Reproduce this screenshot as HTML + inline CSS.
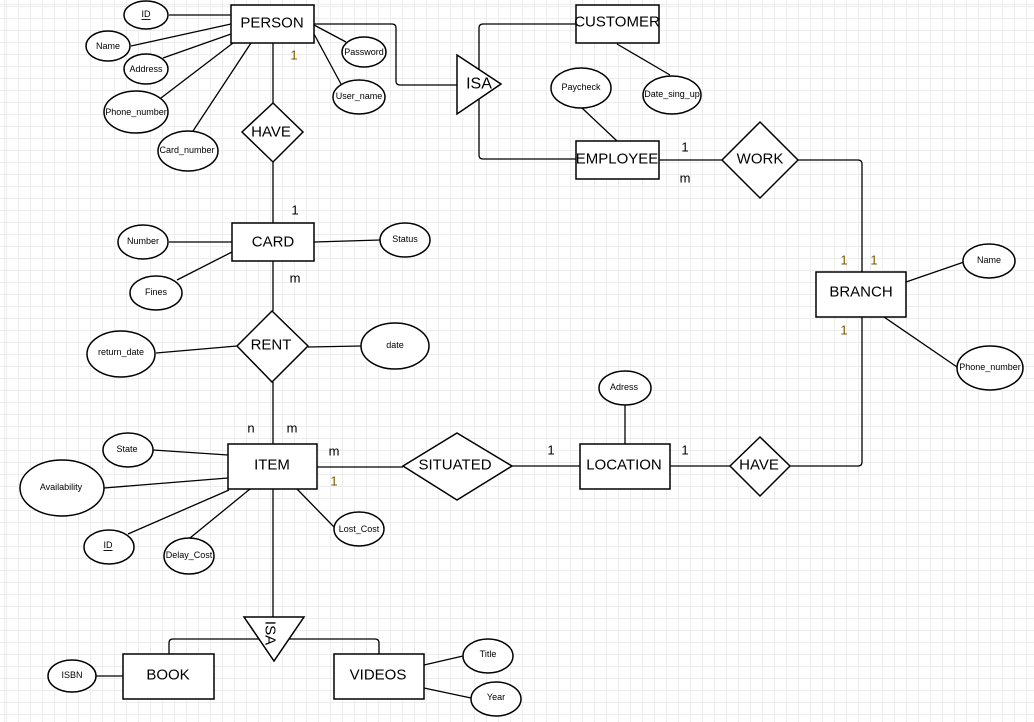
<!DOCTYPE html>
<html><head><meta charset="utf-8"><style>
html,body{margin:0;padding:0;width:1034px;height:722px;overflow:hidden;background:#fff;}
body{background-image:repeating-linear-gradient(to right,#ededed 0,#ededed 1px,transparent 1px,transparent 12px),repeating-linear-gradient(to bottom,#ededed 0,#ededed 1px,transparent 1px,transparent 12px);background-position:6px 6px;}
svg{position:absolute;left:0;top:0;}
text{font-family:"Liberation Sans",sans-serif;fill:#000;}
.e{font-size:15px;text-anchor:middle;dominant-baseline:central;}
.a{font-size:9px;text-anchor:middle;dominant-baseline:central;}
.c{font-size:13px;text-anchor:middle;dominant-baseline:central;}
.o{fill:#7a5a00;}
</style></head><body>
<svg width="1034" height="722" viewBox="0 0 1034 722">
<g stroke="#000" stroke-width="1.3" fill="none">
<line x1="169" y1="15" x2="231" y2="15"/>
<line x1="131" y1="46" x2="231" y2="24"/>
<line x1="163" y1="58" x2="231" y2="34"/>
<line x1="161" y1="98" x2="233" y2="43"/>
<line x1="193" y1="131" x2="251" y2="43"/>
<line x1="314" y1="25" x2="346" y2="42"/>
<line x1="314" y1="34" x2="341" y2="84"/>
<line x1="273" y1="43" x2="273" y2="311"/>
<line x1="169" y1="242" x2="232" y2="242"/>
<line x1="177" y1="280" x2="232" y2="252"/>
<line x1="314" y1="242" x2="380" y2="240"/>
<line x1="156" y1="353" x2="237" y2="346"/>
<line x1="308" y1="347" x2="361" y2="346"/>
<line x1="273" y1="382" x2="273" y2="444"/>
<line x1="153" y1="450" x2="228" y2="455"/>
<line x1="104" y1="488" x2="228" y2="478"/>
<line x1="128" y1="534" x2="229" y2="490"/>
<line x1="190" y1="538" x2="250" y2="489"/>
<line x1="297" y1="489" x2="335" y2="528"/>
<line x1="273" y1="489" x2="273" y2="617"/>
<path d="M169 654 V643 q0 -4 4 -4 H375 q4 0 4 4 V654"/>
<line x1="96" y1="676" x2="123" y2="676"/>
<line x1="424" y1="665" x2="463" y2="656"/>
<line x1="424" y1="688" x2="471" y2="698"/>
<line x1="317" y1="467" x2="403" y2="467"/>
<line x1="512" y1="466" x2="580" y2="466"/>
<line x1="670" y1="466" x2="730" y2="466"/>
<line x1="625" y1="404" x2="625" y2="444"/>
<path d="M790 466 H858 q4 0 4 -4 V317"/>
<path d="M798 160 H858 q4 0 4 4 V272"/>
<line x1="906" y1="282" x2="964" y2="262"/>
<line x1="884" y1="317" x2="957" y2="367"/>
<line x1="659" y1="160" x2="722" y2="160"/>
<line x1="582" y1="108" x2="617" y2="141"/>
<line x1="617" y1="44" x2="670" y2="75"/>
<path d="M314 24 H392 q4 0 4 4 V81 q0 4 4 4 H457"/>
<path d="M576 24 H483 q-4 0 -4 4 V155 q0 4 4 4 H576"/>
</g>
<g stroke="#000" stroke-width="1.5" fill="#fff">
<rect x="231" y="5" width="83" height="38"/>
<rect x="232" y="223" width="82" height="38"/>
<rect x="228" y="444" width="89" height="45"/>
<rect x="123" y="654" width="91" height="45"/>
<rect x="334" y="654" width="90" height="45"/>
<rect x="580" y="444" width="90" height="45"/>
<rect x="816" y="272" width="90" height="45"/>
<rect x="576" y="5" width="83" height="38"/>
<rect x="576" y="141" width="83" height="38"/>
<polygon points="273,103 303,132 273,162 242,132"/>
<polygon points="272,311 308,346 272,382 237,346"/>
<polygon points="457,433 512,466 457,500 403,466"/>
<polygon points="760,437 790,466 760,496 730,466"/>
<polygon points="760,122 798,160 760,198 722,160"/>
<polygon points="244,617 304,617 274,661"/>
<polygon points="457,55 501,84 457,114"/>
<ellipse cx="146" cy="15" rx="22" ry="14"/>
<ellipse cx="108" cy="46" rx="22" ry="15"/>
<ellipse cx="146" cy="69" rx="22" ry="15"/>
<ellipse cx="136" cy="112" rx="32" ry="21"/>
<ellipse cx="188" cy="151" rx="30" ry="20"/>
<ellipse cx="364" cy="52" rx="22" ry="15"/>
<ellipse cx="359" cy="97" rx="26" ry="17"/>
<ellipse cx="143" cy="242" rx="25" ry="17"/>
<ellipse cx="156" cy="293" rx="26" ry="17"/>
<ellipse cx="405" cy="240" rx="25" ry="17"/>
<ellipse cx="121" cy="354" rx="34" ry="23"/>
<ellipse cx="395" cy="346" rx="34" ry="23"/>
<ellipse cx="128" cy="450" rx="25" ry="17"/>
<ellipse cx="62" cy="488" rx="42" ry="28"/>
<ellipse cx="109" cy="547" rx="25" ry="17"/>
<ellipse cx="189" cy="556" rx="25" ry="18"/>
<ellipse cx="359" cy="529" rx="25" ry="17"/>
<ellipse cx="72" cy="676" rx="24" ry="16"/>
<ellipse cx="488" cy="656" rx="25" ry="17"/>
<ellipse cx="496" cy="699" rx="25" ry="17"/>
<ellipse cx="625" cy="388" rx="26" ry="17"/>
<ellipse cx="989" cy="261" rx="26" ry="17"/>
<ellipse cx="990" cy="368" rx="33" ry="22"/>
<ellipse cx="581" cy="88" rx="30" ry="20"/>
<ellipse cx="672" cy="95" rx="29" ry="19"/>
</g>
<text class="e" x="272" y="23">PERSON</text>
<text class="e" x="273" y="242">CARD</text>
<text class="e" x="272" y="465">ITEM</text>
<text class="e" x="168" y="675">BOOK</text>
<text class="e" x="378" y="675">VIDEOS</text>
<text class="e" x="624" y="465">LOCATION</text>
<text class="e" x="861" y="292">BRANCH</text>
<text class="e" x="617" y="22">CUSTOMER</text>
<text class="e" x="617" y="159">EMPLOYEE</text>
<text class="e" x="271" y="132">HAVE</text>
<text class="e" x="271" y="345">RENT</text>
<text class="e" x="455" y="465">SITUATED</text>
<text class="e" x="759" y="465">HAVE</text>
<text class="e" x="760" y="159">WORK</text>
<text class="e" x="479" y="84" style="font-size:16px">ISA</text>
<text class="e" transform="translate(270,633) rotate(90)" style="font-size:15px">ISA</text>
<text class="a" x="146" y="14" text-decoration="underline">ID</text>
<text class="a" x="108" y="46">Name</text>
<text class="a" x="146" y="69">Address</text>
<text class="a" x="136" y="112">Phone_number</text>
<text class="a" x="187" y="150">Card_number</text>
<text class="a" x="364" y="52">Password</text>
<text class="a" x="359" y="96">User_name</text>
<text class="a" x="143" y="241">Number</text>
<text class="a" x="156" y="292">Fines</text>
<text class="a" x="405" y="239">Status</text>
<text class="a" x="121" y="352">return_date</text>
<text class="a" x="395" y="345">date</text>
<text class="a" x="127" y="449">State</text>
<text class="a" x="61" y="487">Availability</text>
<text class="a" x="108" y="545" text-decoration="underline">ID</text>
<text class="a" x="189" y="555">Delay_Cost</text>
<text class="a" x="359" y="529">Lost_Cost</text>
<text class="a" x="72" y="675">ISBN</text>
<text class="a" x="488" y="654">Title</text>
<text class="a" x="496" y="697">Year</text>
<text class="a" x="624" y="387">Adress</text>
<text class="a" x="989" y="260">Name</text>
<text class="a" x="990" y="367">Phone_number</text>
<text class="a" x="581" y="87">Paycheck</text>
<text class="a" x="672" y="94">Date_sing_up</text>
<text class="c o" x="294" y="55">1</text>
<text class="c" x="295" y="210">1</text>
<text class="c" x="295" y="278">m</text>
<text class="c" x="251" y="428">n</text>
<text class="c" x="292" y="428">m</text>
<text class="c" x="334" y="451">m</text>
<text class="c o" x="334" y="481">1</text>
<text class="c" x="551" y="450">1</text>
<text class="c" x="685" y="450">1</text>
<text class="c" x="685" y="147">1</text>
<text class="c" x="685" y="178">m</text>
<text class="c o" x="844" y="260">1</text>
<text class="c o" x="874" y="260">1</text>
<text class="c o" x="844" y="330">1</text>
</svg>
</body></html>
